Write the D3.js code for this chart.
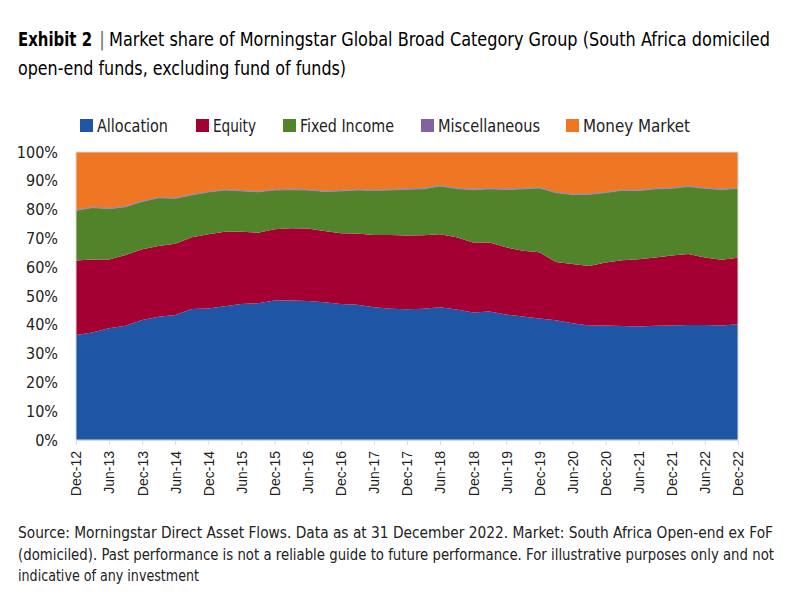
<!DOCTYPE html>
<html>
<head>
<meta charset="utf-8">
<script src="https://cdn.jsdelivr.net/npm/d3@7"></script>
<style>
  body { margin: 0; background: #fff; }
  svg text { font-family: "DejaVu Sans", sans-serif; font-stretch: condensed; }
</style>
</head>
<body>
<div id="chart"></div>
<script>
// quarter-end dates, Dec-12 .. Dec-22
var dates = ["2012-12","2013-03","2013-06","2013-09","2013-12","2014-03","2014-06","2014-09","2014-12","2015-03",
             "2015-06","2015-09","2015-12","2016-03","2016-06","2016-09","2016-12","2017-03","2017-06","2017-09",
             "2017-12","2018-03","2018-06","2018-09","2018-12","2019-03","2019-06","2019-09","2019-12","2020-03",
             "2020-06","2020-09","2020-12","2021-03","2021-06","2021-09","2021-12","2022-03","2022-06","2022-09","2022-12"];

var allocation = [36.5,37.3,38.8,39.7,41.7,42.8,43.4,45.5,45.7,46.4,47.2,47.5,48.4,48.4,48.3,47.8,47.2,47.0,46.1,45.6,
                  45.4,45.6,46.1,45.3,44.3,44.6,43.6,42.9,42.2,41.6,40.5,39.8,39.8,39.6,39.4,39.7,39.8,39.9,39.9,39.8,40.2];
var equity = [25.8,25.4,23.9,24.5,24.5,24.6,24.7,24.9,25.7,25.9,25.1,24.5,24.8,25.1,25.1,24.8,24.6,24.7,25.1,25.6,
              25.6,25.5,25.3,25.1,24.3,24.0,23.3,22.8,23.0,20.2,20.6,20.6,21.8,22.8,23.4,23.7,24.3,24.7,23.5,22.8,23.1];
var fixedIncome = [17.4,18.0,17.6,16.8,16.6,16.7,15.8,14.7,14.7,14.5,14.2,14.2,13.6,13.4,13.4,13.7,14.7,15.1,15.5,15.6,
                   16.1,16.1,16.8,16.9,18.3,18.6,20.1,21.5,22.3,24.1,24.1,24.9,24.3,24.3,23.8,23.8,23.3,23.4,24.0,24.3,24.1];
var misc = [0.3,0.3,0.3,0.3,0.3,0.3,0.3,0.3,0.3,0.3,0.3,0.3,0.3,0.3,0.3,0.3,0.3,0.3,0.3,0.3,
            0.3,0.3,0.3,0.3,0.3,0.3,0.3,0.3,0.3,0.3,0.3,0.3,0.3,0.3,0.3,0.3,0.3,0.3,0.3,0.3,0.3];
var moneyMarket = [20.0,19.0,19.4,18.7,16.9,15.6,15.8,14.6,13.6,12.9,13.2,13.5,12.9,12.8,12.9,13.4,13.2,12.9,13.0,12.9,
                   12.6,12.5,11.5,12.4,12.8,12.5,12.7,12.5,12.2,13.8,14.5,14.4,13.8,13.0,13.1,12.5,12.3,11.7,12.3,12.8,12.3];

var seriesNames = ["Allocation", "Equity", "Fixed Income", "Miscellaneous", "Money Market"];
var seriesColors = ["#1F55A5", "#A50034", "#51842A", "#8064A2", "#EF7622"];
var yTicks = [0, 10, 20, 30, 40, 50, 60, 70, 80, 90, 100];

var W = 802, H = 610;
var margin = {left: 76, right: 64, top: 152, bottom: 170};

var parse = d3.timeParse("%Y-%m");
var rows = dates.map(function(d, i) {
  return {
    date: parse(d),
    "Allocation": allocation[i],
    "Equity": equity[i],
    "Fixed Income": fixedIncome[i],
    "Miscellaneous": misc[i],
    "Money Market": moneyMarket[i]
  };
});

var svg = d3.select("#chart").append("svg")
  .attr("width", W).attr("height", H);

// title (squeezed to the widths of the condensed original)
svg.append("text").attr("x", 18).attr("y", 46)
  .style("font-size", "20px").style("font-weight", "bold").attr("fill", "#000")
  .attr("textLength", 74).attr("lengthAdjust", "spacingAndGlyphs")
  .text("Exhibit 2");
svg.append("text").attr("x", 99).attr("y", 46)
  .style("font-size", "20px").attr("fill", "#777").text("|");
svg.append("text").attr("x", 109).attr("y", 46)
  .style("font-size", "20px").attr("fill", "#000")
  .attr("textLength", 661).attr("lengthAdjust", "spacingAndGlyphs")
  .text("Market share of Morningstar Global Broad Category Group (South Africa domiciled");
svg.append("text").attr("x", 18).attr("y", 75)
  .style("font-size", "20px").attr("fill", "#000")
  .attr("textLength", 328).attr("lengthAdjust", "spacingAndGlyphs")
  .text("open-end funds, excluding fund of funds)");

var x = d3.scaleTime()
  .domain(d3.extent(rows, function(d) { return d.date; }))
  .range([margin.left, W - margin.right]);
var y = d3.scaleLinear().domain([0, 100]).range([H - margin.bottom, margin.top]);

var stack = d3.stack().keys(seriesNames);
var layers = stack(rows);

var area = d3.area()
  .x(function(d) { return x(d.data.date); })
  .y0(function(d) { return y(d[0]); })
  .y1(function(d) { return y(d[1]); });

svg.selectAll("path.layer")
  .data(layers)
  .enter()
  .append("path")
  .attr("class", "layer")
  .attr("d", area)
  .attr("fill", function(d, i) { return seriesColors[i]; })
  .attr("stroke", function(d, i) { return i == 3 ? "#9a8fb0" : "none"; })
  .attr("stroke-width", 1);

// plot frame
svg.append("rect")
  .attr("x", margin.left).attr("y", margin.top)
  .attr("width", W - margin.left - margin.right)
  .attr("height", H - margin.top - margin.bottom)
  .attr("fill", "none").attr("stroke", "#D9D9D9");

// y axis
var yAxis = svg.append("g")
  .attr("transform", "translate(" + margin.left + ",0)")
  .call(d3.axisLeft(y).tickValues(yTicks).tickSize(0).tickPadding(18)
    .tickFormat(function(d) { return d + "%"; }));
yAxis.select(".domain").remove();
yAxis.selectAll("text").style("font-size", "16px").attr("fill", "#222");

// x axis: every second quarter-end (Dec / Jun)
var xTicks = dates.filter(function(d, i) { return i % 2 == 0; }).map(parse);
var xAxis = svg.append("g")
  .attr("transform", "translate(0," + (H - margin.bottom) + ")")
  .call(d3.axisBottom(x).tickValues(xTicks).tickSize(5)
    .tickFormat(d3.timeFormat("%b-%y")));
xAxis.select(".domain").attr("stroke", "#D9D9D9");
xAxis.selectAll("line").attr("stroke", "#D9D9D9");
xAxis.selectAll("text")
  .style("font-family", "'Liberation Sans', Arial, sans-serif")
  .style("font-stretch", "normal")
  .style("font-size", "14px").attr("fill", "#222")
  .attr("transform", "rotate(-90)")
  .attr("text-anchor", "end")
  .attr("x", -11).attr("y", 0).attr("dy", "0.35em");

// legend
var legendX = [80, 196, 283, 421, 566];
var legendW = [71, 43, 94, 102, 107];
var legend = svg.selectAll("g.legend")
  .data(seriesNames)
  .enter()
  .append("g")
  .attr("class", "legend")
  .attr("transform", function(d, i) { return "translate(" + legendX[i] + ",119)"; });
legend.append("rect").attr("width", 13).attr("height", 13)
  .attr("fill", function(d, i) { return seriesColors[i]; });
legend.append("text").attr("x", 17).attr("y", 13)
  .style("font-size", "18px").attr("fill", "#222")
  .attr("textLength", function(d, i) { return legendW[i]; })
  .attr("lengthAdjust", "spacingAndGlyphs")
  .text(function(d) { return d; });

// footer
var footer = [
  "Source: Morningstar Direct Asset Flows. Data as at 31 December 2022. Market: South Africa Open-end ex FoF",
  "(domiciled). Past performance is not a reliable guide to future performance. For illustrative purposes only and not",
  "indicative of any investment"
];
var footerW = [755, 756, 181];
svg.selectAll("text.footer")
  .data(footer)
  .enter()
  .append("text")
  .attr("class", "footer")
  .attr("x", 18)
  .attr("y", function(d, i) { return 538 + i * 21.5; })
  .style("font-size", "15px").attr("fill", "#222")
  .attr("textLength", function(d, i) { return footerW[i]; })
  .attr("lengthAdjust", "spacingAndGlyphs")
  .text(function(d) { return d; });
</script>
</body>
</html>
